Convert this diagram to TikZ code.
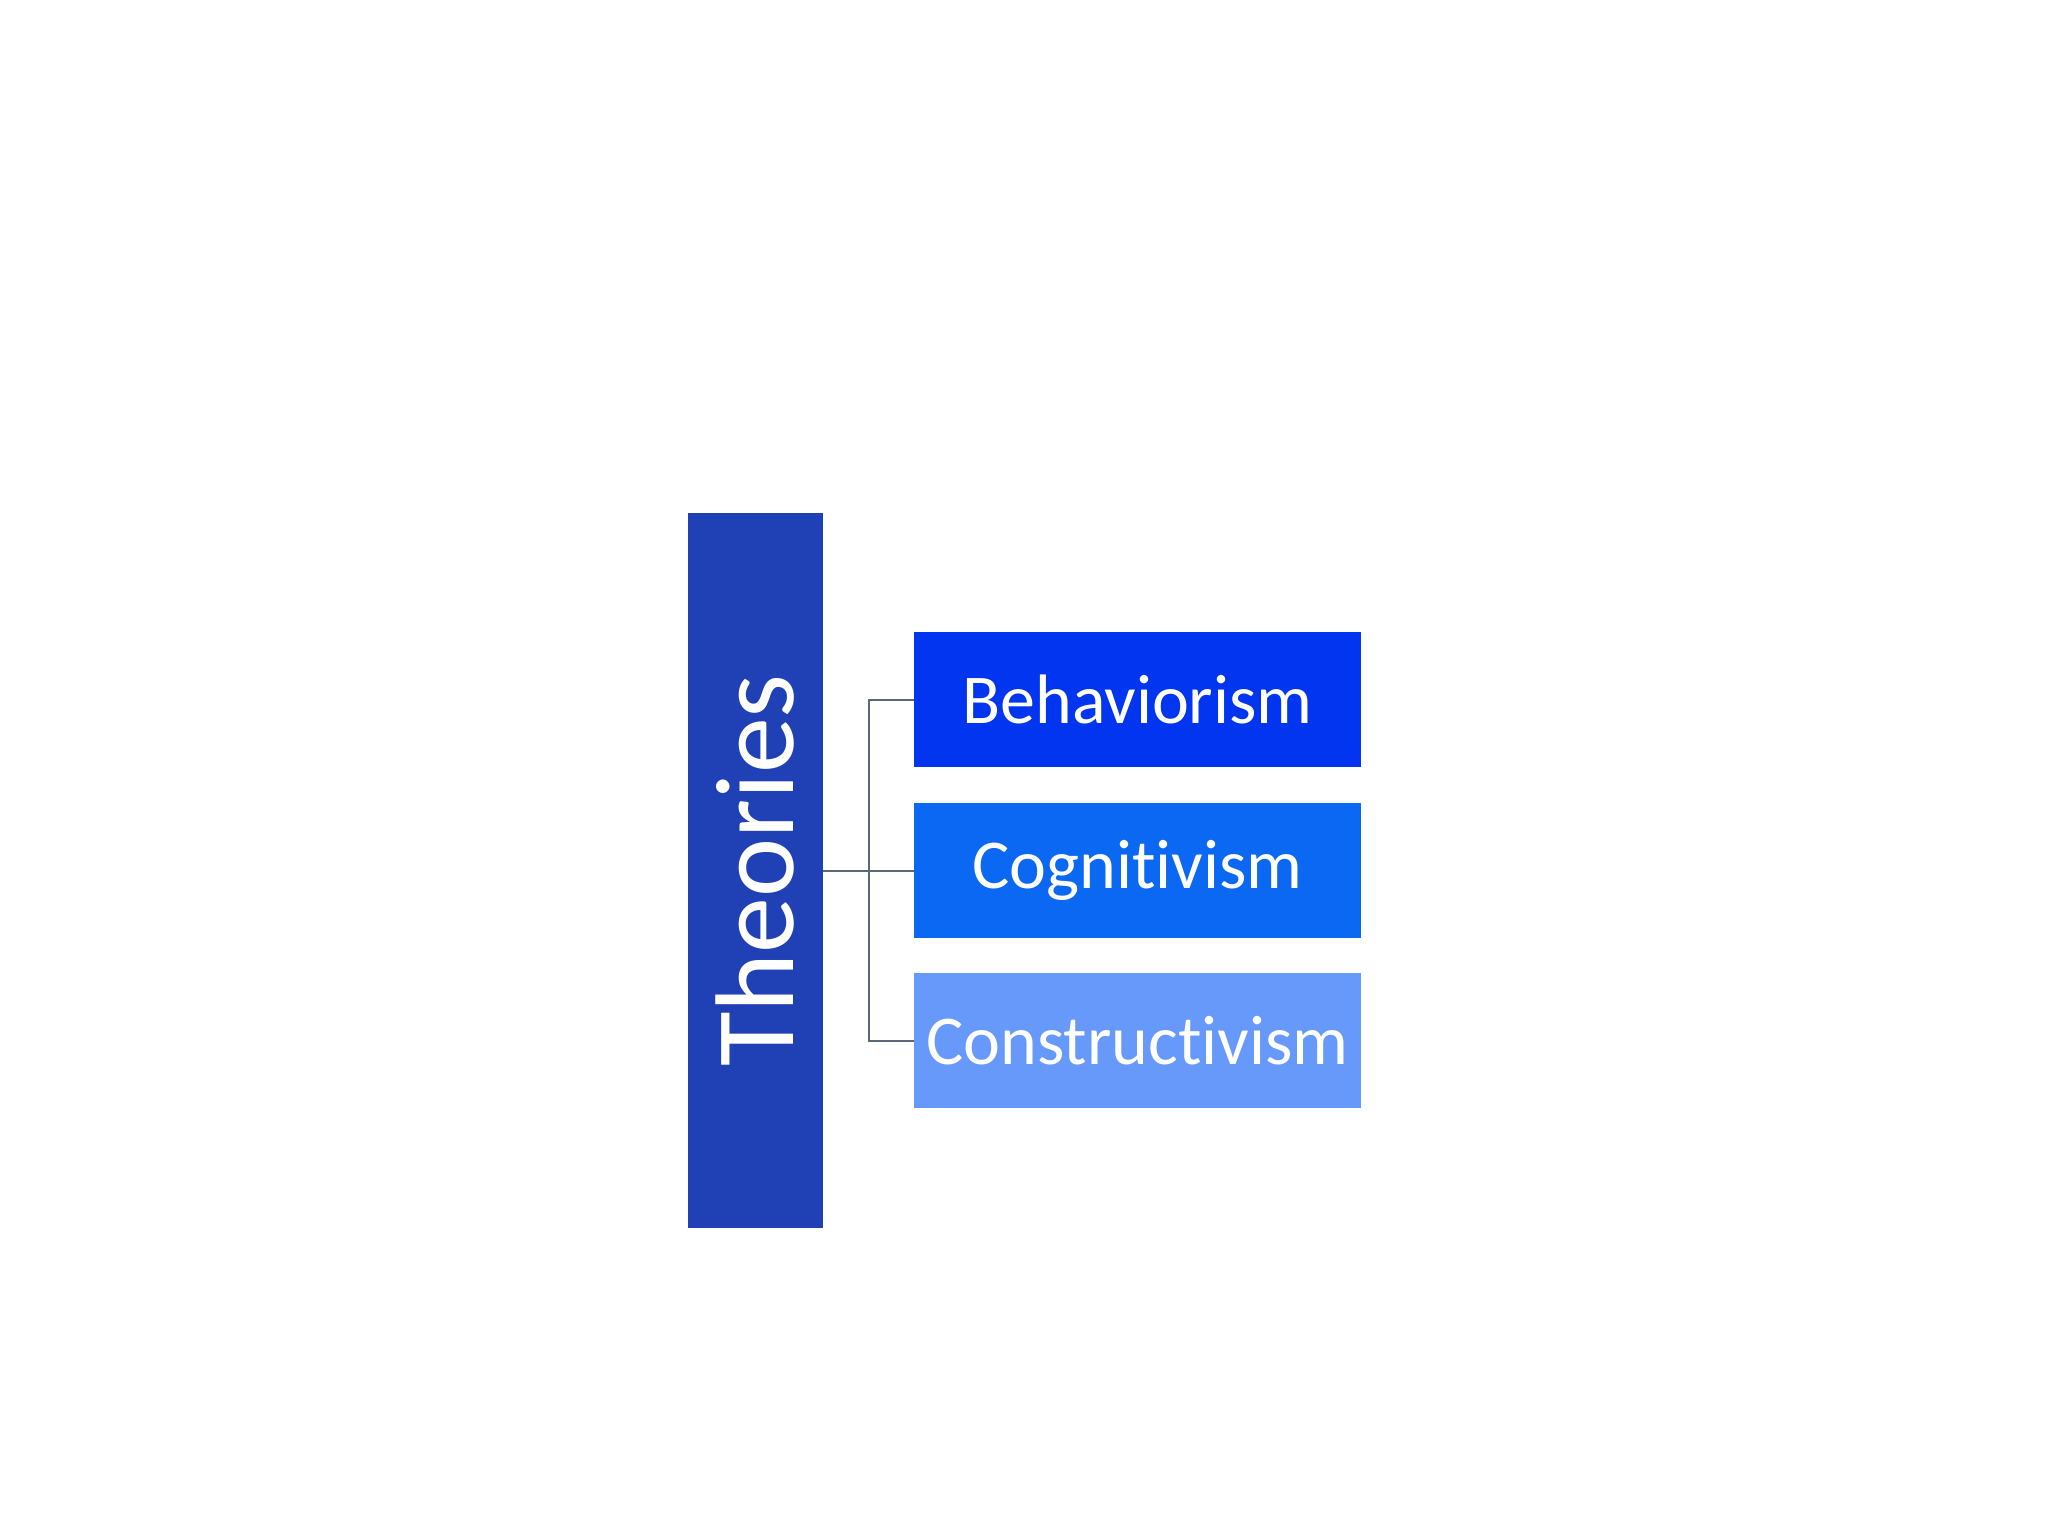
\documentclass[tikz,border=0pt]{standalone}
\usepackage{fontspec}
\setmainfont{Carlito}[Ligatures={NoCommon}]
\definecolor{theo}{HTML}{2041B5}
\definecolor{beh}{HTML}{0235F0}
\definecolor{cog}{HTML}{0A68F2}
\definecolor{con}{HTML}{6699FA}
\definecolor{conn}{HTML}{5A6878}
\begin{document}
\begin{tikzpicture}[x=0.5pt,y=-0.5pt,
  sub/.style={rectangle,inner sep=0pt,minimum width=223.5pt,minimum height=67.5pt,text=white,font=\fontsize{35pt}{40pt}\selectfont},
  connline/.style={draw=conn,line width=1pt}]
\useasboundingbox (0,0) rectangle (2048,1536);
\node[rectangle,fill=theo,inner sep=0pt,minimum width=67.5pt,minimum height=357.5pt] (T) at (755.5,870.5) {};
\node[rotate=90,text=white,font=\fontsize{56pt}{60pt}\selectfont,inner sep=0pt] (Tl) at (T.center) {Theories};
\node[sub,fill=beh] (B) at (1137.5,699.5) {Behaviorism};
\node[sub,fill=cog] (K) at (1137.5,870.5) {Cognitivism};
\node[sub,fill=con] (C) at (1137.5,1040.5) {Constructivism};
\coordinate (j) at (869,870.5);
\draw[connline] (T.east) -- (j);
\draw[connline] (B.west) -- (B.west -| j) -- (C.west -| j) -- (C.west);
\draw[connline] (j) -- (K.west);
\end{tikzpicture}
\end{document}
